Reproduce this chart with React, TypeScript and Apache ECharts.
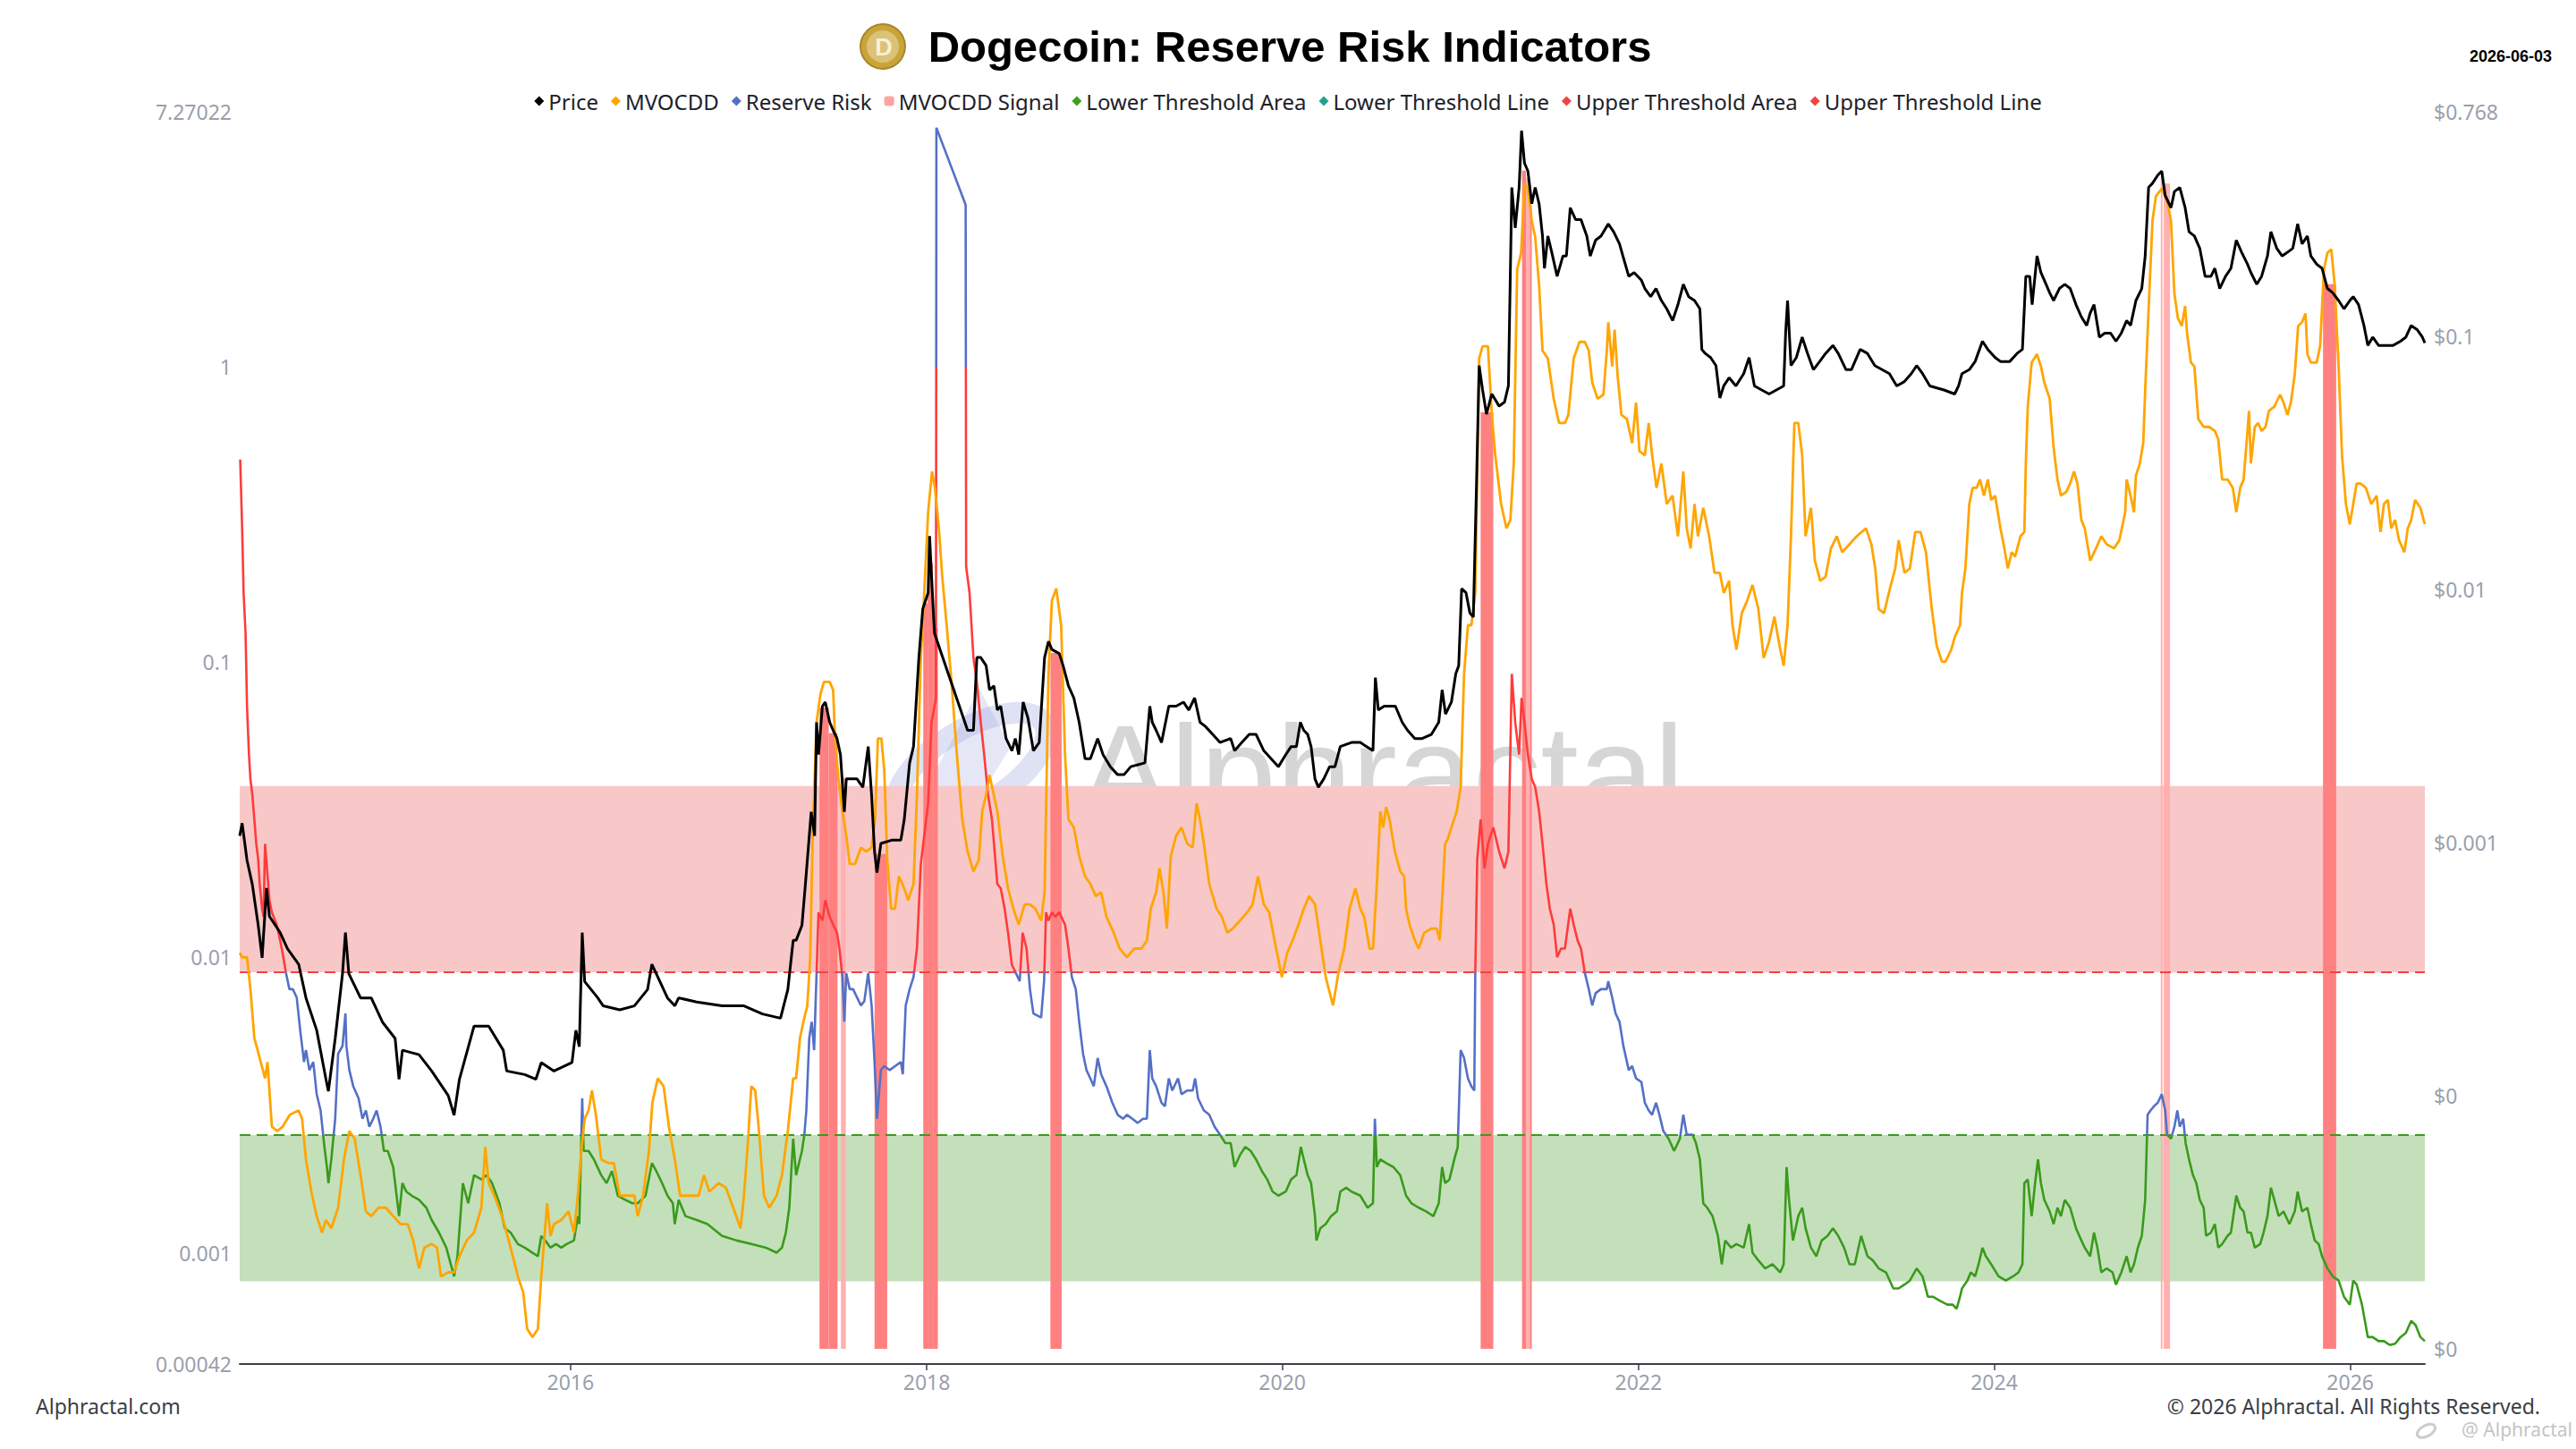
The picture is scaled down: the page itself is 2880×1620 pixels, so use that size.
import React, { useEffect, useRef } from "react";
import * as echarts from "echarts";

// ---------------- DATA ----------------
const xStart = "2014-02-21";
const xEnd = "2026-06-03";

const leftMin = 0.00042;
const leftMax = 7.27022;
const rightMin = 0.0000087;
const rightMax = 0.768;
const signalBase = 0.00001;

const upperThreshold = 0.0089;
const upperAreaTop = 0.038;
const lowerThreshold = 0.0025;
const lowerAreaBottom = 0.0008;

const priceData: [string, number][] = [
  ["2014-02-21", 0.00106], ["2014-02-26", 0.00119], ["2014-03-08", 0.00085], ["2014-03-19", 0.00068], ["2014-03-31", 0.00047],
  ["2014-04-08", 0.00035], ["2014-04-17", 0.00066], ["2014-04-23", 0.00051], ["2014-05-15", 0.00044], ["2014-05-30", 0.00038],
  ["2014-06-22", 0.00033], ["2014-07-07", 0.000243], ["2014-07-29", 0.000181], ["2014-08-17", 0.000116], ["2014-08-22", 0.000104],
  ["2014-09-05", 0.000168], ["2014-09-20", 0.000303], ["2014-09-26", 0.00044], ["2014-10-03", 0.000303], ["2014-10-27", 0.000243],
  ["2014-11-18", 0.000243], ["2014-12-11", 0.000195], ["2015-01-06", 0.000168], ["2015-01-14", 0.000116], ["2015-01-21", 0.000151],
  ["2015-02-24", 0.000145], ["2015-03-22", 0.000125], ["2015-04-25", 0.0001], ["2015-05-07", 0.0000836], ["2015-05-18", 0.000116],
  ["2015-06-17", 0.000188], ["2015-07-17", 0.000188], ["2015-08-16", 0.000151], ["2015-08-23", 0.000125], ["2015-09-29", 0.000121],
  ["2015-10-22", 0.000116], ["2015-11-02", 0.000135], ["2015-11-28", 0.000125], ["2016-01-04", 0.000135], ["2016-01-12", 0.000181],
  ["2016-01-19", 0.000156], ["2016-01-25", 0.00044], ["2016-01-30", 0.000282], ["2016-02-26", 0.000243], ["2016-03-08", 0.000226],
  ["2016-04-11", 0.000218], ["2016-05-11", 0.000226], ["2016-06-07", 0.000262], ["2016-06-16", 0.00033], ["2016-06-25", 0.000303],
  ["2016-07-18", 0.000243], ["2016-08-02", 0.000226], ["2016-08-10", 0.000243], ["2016-09-16", 0.000234], ["2016-11-07", 0.000226],
  ["2016-12-22", 0.000226], ["2017-01-29", 0.00021], ["2017-03-07", 0.000202], ["2017-03-22", 0.000262], ["2017-04-02", 0.00041],
  ["2017-04-08", 0.00041], ["2017-04-20", 0.00047], ["2017-04-27", 0.00068], ["2017-05-09", 0.00132], ["2017-05-16", 0.00106],
  ["2017-05-20", 0.00298], ["2017-05-24", 0.00222], ["2017-06-01", 0.00345], ["2017-06-07", 0.00358], ["2017-06-16", 0.00298],
  ["2017-06-23", 0.00277], ["2017-07-01", 0.00257], ["2017-07-08", 0.00222], ["2017-07-16", 0.00132], ["2017-07-20", 0.00178],
  ["2017-08-11", 0.00178], ["2017-08-23", 0.00165], ["2017-09-03", 0.00239], ["2017-09-10", 0.00153], ["2017-09-16", 0.00092],
  ["2017-09-21", 0.00076], ["2017-09-29", 0.00099], ["2017-10-21", 0.00102], ["2017-11-09", 0.00102], ["2017-11-16", 0.00123],
  ["2017-11-27", 0.00206], ["2017-12-05", 0.00239], ["2017-12-16", 0.00537], ["2017-12-24", 0.00836], ["2018-01-04", 0.00968],
  ["2018-01-07", 0.0162], ["2018-01-11", 0.0112], ["2018-01-17", 0.0067], ["2018-03-26", 0.00277], ["2018-04-07", 0.00277],
  ["2018-04-14", 0.00537], ["2018-04-22", 0.00537], ["2018-05-03", 0.00499], ["2018-05-10", 0.004], ["2018-05-19", 0.00415],
  ["2018-05-26", 0.00333], ["2018-06-02", 0.00345], ["2018-06-13", 0.00257], ["2018-06-25", 0.0023], ["2018-07-02", 0.00257],
  ["2018-07-09", 0.00222], ["2018-07-18", 0.00358], ["2018-07-28", 0.00309], ["2018-08-08", 0.0023], ["2018-08-20", 0.00248],
  ["2018-08-31", 0.00537], ["2018-09-08", 0.00622], ["2018-09-15", 0.00578], ["2018-09-30", 0.00557], ["2018-10-08", 0.00499],
  ["2018-10-19", 0.00415], ["2018-10-30", 0.00372], ["2018-11-10", 0.00298], ["2018-11-22", 0.00214], ["2018-12-03", 0.00214],
  ["2018-12-18", 0.00257], ["2018-12-29", 0.00222], ["2019-01-13", 0.00199], ["2019-01-28", 0.00185], ["2019-02-10", 0.00185],
  ["2019-02-24", 0.00199], ["2019-03-25", 0.00206], ["2019-04-04", 0.00345], ["2019-04-09", 0.00298], ["2019-04-17", 0.00277],
  ["2019-04-28", 0.00248], ["2019-05-13", 0.00345], ["2019-05-28", 0.00345], ["2019-06-12", 0.00358], ["2019-06-23", 0.00333],
  ["2019-07-05", 0.00372], ["2019-07-16", 0.00298], ["2019-07-27", 0.00287], ["2019-08-11", 0.00267], ["2019-08-26", 0.00248],
  ["2019-09-17", 0.00257], ["2019-09-25", 0.0023], ["2019-10-10", 0.00248], ["2019-10-25", 0.00267], ["2019-11-08", 0.00267],
  ["2019-11-24", 0.0023], ["2019-12-09", 0.00214], ["2019-12-24", 0.00199], ["2020-01-08", 0.00222], ["2020-01-19", 0.00239],
  ["2020-01-30", 0.00239], ["2020-02-07", 0.00298], ["2020-02-14", 0.00277], ["2020-02-22", 0.00267], ["2020-02-29", 0.00239],
  ["2020-03-08", 0.00178], ["2020-03-15", 0.00165], ["2020-03-26", 0.00178], ["2020-04-07", 0.00199], ["2020-04-18", 0.00199],
  ["2020-04-29", 0.00239], ["2020-05-22", 0.00248], ["2020-06-09", 0.00248], ["2020-07-05", 0.0023], ["2020-07-10", 0.00447],
  ["2020-07-16", 0.00333], ["2020-07-28", 0.00345], ["2020-08-08", 0.00345], ["2020-08-20", 0.00345], ["2020-09-03", 0.00298],
  ["2020-09-14", 0.00277], ["2020-09-29", 0.00257], ["2020-10-14", 0.00257], ["2020-11-02", 0.00267], ["2020-11-17", 0.00298],
  ["2020-11-24", 0.004], ["2020-12-01", 0.00321], ["2020-12-13", 0.00358], ["2020-12-22", 0.00463], ["2020-12-28", 0.00499],
  ["2021-01-03", 0.01005], ["2021-01-12", 0.00968], ["2021-01-20", 0.00805], ["2021-01-27", 0.00776], ["2021-02-02", 0.0235],
  ["2021-02-08", 0.0764], ["2021-02-15", 0.0612], ["2021-02-23", 0.0491], ["2021-03-06", 0.059], ["2021-03-21", 0.0528],
  ["2021-04-01", 0.0548], ["2021-04-09", 0.0635], ["2021-04-16", 0.386], ["2021-04-23", 0.267], ["2021-05-01", 0.386],
  ["2021-05-06", 0.647], ["2021-05-12", 0.482], ["2021-05-19", 0.448], ["2021-05-27", 0.333], ["2021-06-03", 0.386],
  ["2021-06-11", 0.333], ["2021-06-18", 0.248], ["2021-06-22", 0.185], ["2021-06-29", 0.248], ["2021-07-07", 0.214],
  ["2021-07-18", 0.172], ["2021-07-30", 0.207], ["2021-08-06", 0.207], ["2021-08-14", 0.321], ["2021-08-25", 0.288],
  ["2021-09-05", 0.288], ["2021-09-17", 0.248], ["2021-09-24", 0.207], ["2021-10-05", 0.239], ["2021-10-16", 0.248],
  ["2021-10-31", 0.277], ["2021-11-11", 0.258], ["2021-11-23", 0.231], ["2021-11-30", 0.207], ["2021-12-12", 0.172],
  ["2021-12-23", 0.178], ["2022-01-07", 0.166], ["2022-01-14", 0.154], ["2022-01-26", 0.143], ["2022-02-06", 0.154],
  ["2022-02-17", 0.138], ["2022-02-28", 0.128], ["2022-03-12", 0.115], ["2022-03-23", 0.133], ["2022-04-03", 0.16],
  ["2022-04-14", 0.143], ["2022-04-26", 0.138], ["2022-05-07", 0.128], ["2022-05-11", 0.0885], ["2022-05-18", 0.0853],
  ["2022-05-29", 0.0822], ["2022-06-09", 0.0764], ["2022-06-17", 0.0569], ["2022-06-25", 0.0635], ["2022-07-06", 0.0684],
  ["2022-07-20", 0.0635], ["2022-08-05", 0.071], ["2022-08-16", 0.0822], ["2022-08-27", 0.0635], ["2022-09-11", 0.0612],
  ["2022-09-26", 0.059], ["2022-10-11", 0.0612], ["2022-10-26", 0.0635], ["2022-10-30", 0.1026], ["2022-11-03", 0.138],
  ["2022-11-10", 0.0764], ["2022-11-21", 0.0822], ["2022-12-03", 0.0989], ["2022-12-14", 0.0853], ["2022-12-26", 0.0736],
  ["2023-01-08", 0.0793], ["2023-01-20", 0.0853], ["2023-02-04", 0.0918], ["2023-02-15", 0.0853], ["2023-03-03", 0.0736],
  ["2023-03-14", 0.0736], ["2023-04-01", 0.0885], ["2023-04-16", 0.0853], ["2023-05-01", 0.0764], ["2023-05-16", 0.0736],
  ["2023-05-31", 0.071], ["2023-06-15", 0.0635], ["2023-06-30", 0.0659], ["2023-07-15", 0.071], ["2023-07-26", 0.0764],
  ["2023-08-07", 0.071], ["2023-08-22", 0.0635], ["2023-09-20", 0.0612], ["2023-10-12", 0.059], ["2023-10-20", 0.0635],
  ["2023-10-27", 0.071], ["2023-11-11", 0.0736], ["2023-11-23", 0.0793], ["2023-12-08", 0.0953], ["2023-12-19", 0.0885],
  ["2024-01-03", 0.0822], ["2024-01-14", 0.0793], ["2024-02-02", 0.0793], ["2024-02-17", 0.0853], ["2024-02-28", 0.0885],
  ["2024-03-06", 0.172], ["2024-03-14", 0.172], ["2024-03-19", 0.133], ["2024-03-29", 0.207], ["2024-04-06", 0.178],
  ["2024-04-13", 0.166], ["2024-04-24", 0.148], ["2024-05-02", 0.138], ["2024-05-14", 0.154], ["2024-05-25", 0.16],
  ["2024-06-05", 0.154], ["2024-06-17", 0.133], ["2024-06-28", 0.119], ["2024-07-09", 0.11], ["2024-07-16", 0.123],
  ["2024-07-24", 0.133], ["2024-08-04", 0.0989], ["2024-08-15", 0.1026], ["2024-08-27", 0.1026], ["2024-09-07", 0.0953],
  ["2024-09-18", 0.1026], ["2024-09-29", 0.115], ["2024-10-07", 0.11], ["2024-10-18", 0.138], ["2024-10-30", 0.154],
  ["2024-11-06", 0.207], ["2024-11-13", 0.386], ["2024-11-21", 0.401], ["2024-12-02", 0.432], ["2024-12-10", 0.448],
  ["2024-12-17", 0.359], ["2024-12-29", 0.321], ["2025-01-05", 0.372], ["2025-01-16", 0.386], ["2025-01-27", 0.321],
  ["2025-02-04", 0.258], ["2025-02-15", 0.248], ["2025-02-26", 0.222], ["2025-03-09", 0.172], ["2025-03-21", 0.172],
  ["2025-03-29", 0.185], ["2025-04-08", 0.154], ["2025-04-20", 0.172], ["2025-05-01", 0.185], ["2025-05-12", 0.239],
  ["2025-05-23", 0.214], ["2025-06-04", 0.192], ["2025-06-11", 0.178], ["2025-06-23", 0.16], ["2025-07-03", 0.172],
  ["2025-07-15", 0.207], ["2025-07-22", 0.258], ["2025-08-03", 0.222], ["2025-08-14", 0.207], ["2025-08-25", 0.214],
  ["2025-09-05", 0.222], ["2025-09-15", 0.277], ["2025-09-24", 0.231], ["2025-10-05", 0.248], ["2025-10-12", 0.207],
  ["2025-10-24", 0.192], ["2025-11-04", 0.185], ["2025-11-15", 0.154], ["2025-11-26", 0.148], ["2025-12-08", 0.138],
  ["2025-12-19", 0.128], ["2025-12-31", 0.138], ["2026-01-07", 0.143], ["2026-01-18", 0.133], ["2026-01-29", 0.11],
  ["2026-02-06", 0.0918], ["2026-02-16", 0.0989], ["2026-02-28", 0.0918], ["2026-03-15", 0.0918], ["2026-03-30", 0.0918],
  ["2026-04-14", 0.0953], ["2026-04-25", 0.0989], ["2026-05-06", 0.11], ["2026-05-18", 0.106], ["2026-05-29", 0.0989],
  ["2026-06-03", 0.0938],
];

const mvocddData: [string, number][] = [
  ["2014-02-21", 0.01035], ["2014-02-26", 0.01], ["2014-03-08", 0.01], ["2014-03-15", 0.0078], ["2014-03-23", 0.00533],
  ["2014-04-03", 0.00456], ["2014-04-14", 0.00389], ["2014-04-19", 0.00442], ["2014-04-28", 0.00267], ["2014-05-09", 0.00258],
  ["2014-05-20", 0.00267], ["2014-06-04", 0.00293], ["2014-06-22", 0.00303], ["2014-06-29", 0.00284], ["2014-07-07", 0.00207],
  ["2014-07-18", 0.00161], ["2014-07-29", 0.00133], ["2014-08-09", 0.00117], ["2014-08-17", 0.00129], ["2014-08-28", 0.00121],
  ["2014-09-11", 0.00142], ["2014-09-23", 0.00207], ["2014-10-04", 0.00258], ["2014-10-15", 0.00243], ["2014-10-27", 0.00183],
  ["2014-11-07", 0.00138], ["2014-11-18", 0.00133], ["2014-12-03", 0.00142], ["2014-12-18", 0.00142], ["2015-01-02", 0.00133],
  ["2015-01-17", 0.00125], ["2015-02-01", 0.00125], ["2015-02-12", 0.0011], ["2015-02-24", 0.000885], ["2015-03-07", 0.00104],
  ["2015-03-22", 0.00107], ["2015-04-02", 0.00104], ["2015-04-10", 0.000832], ["2015-04-25", 0.000858], ["2015-05-07", 0.000858],
  ["2015-05-18", 0.000973], ["2015-06-02", 0.0011], ["2015-06-17", 0.00117], ["2015-07-02", 0.00142], ["2015-07-10", 0.00228],
  ["2015-07-17", 0.00172], ["2015-08-01", 0.00151], ["2015-08-16", 0.00129], ["2015-08-31", 0.00104], ["2015-09-15", 0.000832],
  ["2015-09-26", 0.000733], ["2015-10-04", 0.000552], ["2015-10-15", 0.000518], ["2015-10-26", 0.000552], ["2015-11-02", 0.000832],
  ["2015-11-10", 0.00121], ["2015-11-14", 0.00147], ["2015-11-21", 0.00114], ["2015-11-28", 0.00125], ["2015-12-13", 0.00129],
  ["2015-12-28", 0.00138], ["2016-01-08", 0.00117], ["2016-01-16", 0.00156], ["2016-01-23", 0.00221], ["2016-01-30", 0.00284],
  ["2016-02-07", 0.00303], ["2016-02-14", 0.00354], ["2016-02-22", 0.00293], ["2016-03-04", 0.00207], ["2016-03-19", 0.00201],
  ["2016-03-30", 0.00201], ["2016-04-11", 0.00156], ["2016-04-26", 0.00156], ["2016-05-11", 0.00156], ["2016-05-18", 0.00133],
  ["2016-05-29", 0.00156], ["2016-06-10", 0.00221], ["2016-06-17", 0.00322], ["2016-06-28", 0.00389], ["2016-07-10", 0.00366],
  ["2016-07-21", 0.00267], ["2016-08-02", 0.00207], ["2016-08-13", 0.00156], ["2016-09-01", 0.00156], ["2016-09-20", 0.00156],
  ["2016-10-01", 0.00183], ["2016-10-12", 0.00161], ["2016-10-31", 0.00172], ["2016-11-15", 0.00166], ["2016-11-30", 0.00142],
  ["2016-12-15", 0.00121], ["2016-12-22", 0.00156], ["2016-12-30", 0.00235], ["2017-01-06", 0.00366], ["2017-01-14", 0.00354],
  ["2017-01-21", 0.00267], ["2017-02-01", 0.00156], ["2017-02-12", 0.00142], ["2017-02-27", 0.00156], ["2017-03-10", 0.00183],
  ["2017-03-22", 0.00258], ["2017-04-02", 0.00389], ["2017-04-08", 0.00389], ["2017-04-16", 0.00533], ["2017-04-23", 0.00605],
  ["2017-05-01", 0.00687], ["2017-05-07", 0.01], ["2017-05-12", 0.0258], ["2017-05-20", 0.0624], ["2017-05-28", 0.0778],
  ["2017-06-04", 0.0855], ["2017-06-16", 0.0855], ["2017-06-23", 0.0803], ["2017-06-27", 0.055], ["2017-07-04", 0.0401],
  ["2017-07-12", 0.0312], ["2017-07-20", 0.0258], ["2017-07-27", 0.0207], ["2017-08-07", 0.0207], ["2017-08-19", 0.0235],
  ["2017-08-30", 0.0228], ["2017-09-10", 0.0235], ["2017-09-17", 0.0293], ["2017-09-23", 0.055], ["2017-09-30", 0.055],
  ["2017-10-06", 0.0428], ["2017-10-12", 0.0214], ["2017-10-20", 0.0146], ["2017-10-28", 0.0146], ["2017-11-05", 0.0188],
  ["2017-11-16", 0.0171], ["2017-11-24", 0.0156], ["2017-12-05", 0.0177], ["2017-12-12", 0.0354], ["2017-12-20", 0.103],
  ["2017-12-27", 0.171], ["2018-01-04", 0.321], ["2018-01-12", 0.441], ["2018-01-18", 0.388], ["2018-01-26", 0.283],
  ["2018-02-02", 0.194], ["2018-02-11", 0.133], ["2018-02-21", 0.0855], ["2018-03-04", 0.0485], ["2018-03-15", 0.0293],
  ["2018-03-26", 0.0228], ["2018-04-07", 0.0195], ["2018-04-18", 0.0214], ["2018-04-25", 0.0312], ["2018-05-03", 0.0354],
  ["2018-05-10", 0.0414], ["2018-05-26", 0.0312], ["2018-06-06", 0.022], ["2018-06-17", 0.0171], ["2018-06-28", 0.0146],
  ["2018-07-09", 0.0129], ["2018-07-21", 0.0151], ["2018-08-01", 0.0151], ["2018-08-12", 0.0146], ["2018-08-24", 0.0133],
  ["2018-08-31", 0.0166], ["2018-09-08", 0.091], ["2018-09-15", 0.161], ["2018-09-24", 0.177], ["2018-10-04", 0.133],
  ["2018-10-12", 0.0485], ["2018-10-19", 0.0293], ["2018-10-30", 0.0275], ["2018-11-10", 0.022], ["2018-11-22", 0.0188],
  ["2018-12-03", 0.0177], ["2018-12-14", 0.0161], ["2018-12-25", 0.0166], ["2019-01-05", 0.0137], ["2019-01-20", 0.0121],
  ["2019-02-01", 0.0107], ["2019-02-16", 0.01], ["2019-03-03", 0.0107], ["2019-03-18", 0.0107], ["2019-03-29", 0.0114],
  ["2019-04-06", 0.0146], ["2019-04-17", 0.0166], ["2019-04-24", 0.02], ["2019-05-02", 0.0166], ["2019-05-09", 0.0125],
  ["2019-05-17", 0.022], ["2019-05-28", 0.0258], ["2019-06-08", 0.0275], ["2019-06-20", 0.0242], ["2019-07-01", 0.0235],
  ["2019-07-09", 0.0332], ["2019-07-16", 0.0293], ["2019-07-24", 0.0242], ["2019-08-04", 0.0177], ["2019-08-19", 0.0146],
  ["2019-08-30", 0.0137], ["2019-09-10", 0.0121], ["2019-09-21", 0.0125], ["2019-10-06", 0.0133], ["2019-10-21", 0.0142],
  ["2019-11-01", 0.0151], ["2019-11-12", 0.0188], ["2019-11-24", 0.0151], ["2019-12-05", 0.0142], ["2019-12-16", 0.0114],
  ["2019-12-31", 0.00857], ["2020-01-11", 0.01035], ["2020-01-22", 0.0114], ["2020-02-03", 0.0129], ["2020-02-14", 0.0146],
  ["2020-02-25", 0.0161], ["2020-03-08", 0.0151], ["2020-03-19", 0.0114], ["2020-03-30", 0.00857], ["2020-04-14", 0.00687],
  ["2020-04-25", 0.00884], ["2020-05-07", 0.0107], ["2020-05-18", 0.0146], ["2020-05-30", 0.0171], ["2020-06-09", 0.0146],
  ["2020-06-17", 0.0137], ["2020-06-28", 0.0107], ["2020-07-05", 0.0107], ["2020-07-13", 0.0177], ["2020-07-20", 0.0312],
  ["2020-07-26", 0.0275], ["2020-08-01", 0.0322], ["2020-08-08", 0.0293], ["2020-08-19", 0.0228], ["2020-08-30", 0.0195],
  ["2020-09-07", 0.0188], ["2020-09-11", 0.0146], ["2020-09-18", 0.0129], ["2020-09-29", 0.0114], ["2020-10-07", 0.0107],
  ["2020-10-18", 0.0121], ["2020-11-02", 0.0125], ["2020-11-13", 0.0125], ["2020-11-19", 0.0114], ["2020-11-24", 0.0156],
  ["2020-11-30", 0.0242], ["2020-12-05", 0.025], ["2020-12-13", 0.0275], ["2020-12-24", 0.0312], ["2021-01-01", 0.0377],
  ["2021-01-08", 0.091], ["2021-01-16", 0.133], ["2021-01-23", 0.133], ["2021-01-31", 0.171], ["2021-02-08", 1.064],
  ["2021-02-15", 1.17], ["2021-02-26", 1.17], ["2021-03-06", 0.685], ["2021-03-13", 0.5], ["2021-03-25", 0.342],
  ["2021-04-05", 0.283], ["2021-04-13", 0.302], ["2021-04-20", 0.469], ["2021-04-27", 2.13], ["2021-05-05", 2.42],
  ["2021-05-12", 4.13], ["2021-05-19", 4.0], ["2021-05-27", 3.11], ["2021-06-03", 2.74], ["2021-06-11", 1.88],
  ["2021-06-18", 1.13], ["2021-06-29", 1.064], ["2021-07-11", 0.777], ["2021-07-22", 0.643], ["2021-08-03", 0.643],
  ["2021-08-10", 0.685], ["2021-08-21", 1.064], ["2021-09-02", 1.21], ["2021-09-13", 1.21], ["2021-09-21", 1.13],
  ["2021-09-28", 0.881], ["2021-10-09", 0.777], ["2021-10-21", 0.802], ["2021-10-28", 1.13], ["2021-10-31", 1.41],
  ["2021-11-08", 1.0], ["2021-11-13", 1.33], ["2021-11-19", 0.938], ["2021-11-27", 0.685], ["2021-12-08", 0.664],
  ["2021-12-19", 0.55], ["2021-12-27", 0.754], ["2022-01-03", 0.516], ["2022-01-14", 0.5], ["2022-01-22", 0.643],
  ["2022-01-29", 0.5], ["2022-02-07", 0.388], ["2022-02-17", 0.469], ["2022-02-28", 0.342], ["2022-03-12", 0.365],
  ["2022-03-23", 0.266], ["2022-04-03", 0.441], ["2022-04-10", 0.283], ["2022-04-18", 0.242], ["2022-04-26", 0.342],
  ["2022-05-03", 0.266], ["2022-05-14", 0.332], ["2022-05-26", 0.266], ["2022-06-06", 0.2], ["2022-06-17", 0.2],
  ["2022-06-25", 0.171], ["2022-07-06", 0.188], ["2022-07-13", 0.133], ["2022-07-21", 0.11], ["2022-08-01", 0.146],
  ["2022-08-12", 0.161], ["2022-08-23", 0.182], ["2022-09-04", 0.151], ["2022-09-15", 0.103], ["2022-09-26", 0.117],
  ["2022-10-07", 0.142], ["2022-10-19", 0.11], ["2022-10-26", 0.097], ["2022-11-03", 0.133], ["2022-11-10", 0.266],
  ["2022-11-17", 0.643], ["2022-11-25", 0.643], ["2022-12-03", 0.5], ["2022-12-10", 0.266], ["2022-12-21", 0.332],
  ["2022-12-29", 0.22], ["2023-01-09", 0.188], ["2023-01-20", 0.194], ["2023-01-31", 0.242], ["2023-02-12", 0.266],
  ["2023-02-23", 0.235], ["2023-03-10", 0.25], ["2023-03-25", 0.266], ["2023-04-13", 0.283], ["2023-04-24", 0.25],
  ["2023-05-02", 0.207], ["2023-05-09", 0.151], ["2023-05-20", 0.146], ["2023-06-01", 0.177], ["2023-06-12", 0.207],
  ["2023-06-19", 0.258], ["2023-07-01", 0.2], ["2023-07-12", 0.207], ["2023-07-23", 0.275], ["2023-08-03", 0.275],
  ["2023-08-14", 0.235], ["2023-08-26", 0.151], ["2023-09-05", 0.1135], ["2023-09-16", 0.1], ["2023-09-23", 0.1],
  ["2023-10-05", 0.11], ["2023-10-12", 0.121], ["2023-10-23", 0.133], ["2023-10-27", 0.171], ["2023-11-03", 0.207],
  ["2023-11-11", 0.342], ["2023-11-18", 0.388], ["2023-11-26", 0.388], ["2023-12-03", 0.414], ["2023-12-11", 0.365],
  ["2023-12-19", 0.414], ["2023-12-26", 0.353], ["2024-01-03", 0.365], ["2024-01-14", 0.283], ["2024-01-22", 0.242],
  ["2024-01-29", 0.207], ["2024-02-06", 0.235], ["2024-02-13", 0.227], ["2024-02-24", 0.266], ["2024-03-03", 0.275],
  ["2024-03-06", 0.469], ["2024-03-10", 0.73], ["2024-03-18", 1.03], ["2024-03-29", 1.1], ["2024-04-06", 1.0],
  ["2024-04-13", 0.881], ["2024-04-24", 0.777], ["2024-05-02", 0.532], ["2024-05-10", 0.414], ["2024-05-17", 0.365],
  ["2024-05-28", 0.376], ["2024-06-05", 0.401], ["2024-06-13", 0.441], ["2024-06-20", 0.401], ["2024-06-28", 0.302],
  ["2024-07-05", 0.283], ["2024-07-16", 0.22], ["2024-07-28", 0.242], ["2024-08-08", 0.266], ["2024-08-19", 0.25],
  ["2024-09-03", 0.242], ["2024-09-14", 0.258], ["2024-09-26", 0.321], ["2024-09-29", 0.414], ["2024-10-07", 0.365],
  ["2024-10-14", 0.321], ["2024-10-18", 0.427], ["2024-10-26", 0.469], ["2024-11-02", 0.55], ["2024-11-06", 0.828],
  ["2024-11-13", 1.56], ["2024-11-21", 3.11], ["2024-11-28", 3.76], ["2024-12-10", 4.0], ["2024-12-21", 3.64],
  ["2024-12-29", 3.11], ["2025-01-05", 1.76], ["2025-01-12", 1.46], ["2025-01-20", 1.37], ["2025-01-27", 1.6],
  ["2025-01-31", 1.29], ["2025-02-08", 1.03], ["2025-02-15", 1.0], ["2025-02-23", 0.664], ["2025-03-06", 0.624],
  ["2025-03-17", 0.624], ["2025-03-29", 0.604], ["2025-04-05", 0.567], ["2025-04-13", 0.414], ["2025-04-24", 0.414],
  ["2025-05-05", 0.388], ["2025-05-12", 0.321], ["2025-05-20", 0.388], ["2025-05-27", 0.414], ["2025-06-04", 0.604],
  ["2025-06-07", 0.707], ["2025-06-11", 0.469], ["2025-06-19", 0.624], ["2025-06-26", 0.643], ["2025-07-03", 0.604],
  ["2025-07-11", 0.624], ["2025-07-18", 0.707], ["2025-07-29", 0.73], ["2025-08-10", 0.802], ["2025-08-17", 0.754],
  ["2025-08-25", 0.685], ["2025-09-01", 0.754], ["2025-09-09", 0.938], ["2025-09-16", 1.37], ["2025-09-24", 1.41],
  ["2025-10-01", 1.51], ["2025-10-05", 1.1], ["2025-10-12", 1.03], ["2025-10-24", 1.03], ["2025-10-31", 1.17],
  ["2025-11-08", 2.13], ["2025-11-15", 2.42], ["2025-11-23", 2.49], ["2025-11-30", 1.88], ["2025-12-08", 1.0],
  ["2025-12-15", 0.5], ["2025-12-23", 0.342], ["2025-12-31", 0.292], ["2026-01-07", 0.342], ["2026-01-14", 0.401],
  ["2026-01-22", 0.401], ["2026-02-02", 0.388], ["2026-02-13", 0.342], ["2026-02-24", 0.365], ["2026-03-04", 0.275],
  ["2026-03-11", 0.342], ["2026-03-19", 0.353], ["2026-03-26", 0.283], ["2026-04-03", 0.302], ["2026-04-11", 0.258],
  ["2026-04-22", 0.235], ["2026-04-29", 0.283], ["2026-05-06", 0.302], ["2026-05-14", 0.353], ["2026-05-25", 0.332],
  ["2026-06-03", 0.292],
];

const reserveRiskData: [string, number][] = [
  ["2014-02-22", 0.484], ["2014-02-26", 0.283], ["2014-03-01", 0.171], ["2014-03-05", 0.125], ["2014-03-08", 0.0708],
  ["2014-03-12", 0.0485], ["2014-03-15", 0.0401], ["2014-03-19", 0.0354], ["2014-03-23", 0.0293], ["2014-03-27", 0.0242],
  ["2014-03-31", 0.0214], ["2014-04-03", 0.0177], ["2014-04-08", 0.0146], ["2014-04-11", 0.0137], ["2014-04-14", 0.0242],
  ["2014-04-18", 0.02], ["2014-04-23", 0.0156], ["2014-04-28", 0.0142], ["2014-05-08", 0.0129], ["2014-05-15", 0.0114],
  ["2014-05-20", 0.01035], ["2014-05-27", 0.00884], ["2014-06-03", 0.0078], ["2014-06-10", 0.0078], ["2014-06-18", 0.00731],
  ["2014-06-25", 0.00569], ["2014-07-03", 0.00442], ["2014-07-07", 0.00485], ["2014-07-14", 0.00415], ["2014-07-22", 0.00442],
  ["2014-07-29", 0.00344], ["2014-08-06", 0.00303], ["2014-08-13", 0.00235], ["2014-08-19", 0.00195], ["2014-08-22", 0.00172],
  ["2014-08-28", 0.00207], ["2014-09-05", 0.00284], ["2014-09-11", 0.00471], ["2014-09-20", 0.00501], ["2014-09-26", 0.00645],
  ["2014-09-28", 0.00501], ["2014-10-04", 0.00415], ["2014-10-12", 0.00366], ["2014-10-23", 0.00333], ["2014-10-31", 0.00284],
  ["2014-11-07", 0.00303], ["2014-11-14", 0.00267], ["2014-11-22", 0.00284], ["2014-11-29", 0.00303], ["2014-12-07", 0.00267],
  ["2014-12-14", 0.00221], ["2014-12-22", 0.00221], ["2015-01-02", 0.00195], ["2015-01-14", 0.00133], ["2015-01-21", 0.00172],
  ["2015-01-29", 0.00161], ["2015-02-09", 0.00156], ["2015-02-24", 0.00151], ["2015-03-11", 0.00142], ["2015-03-22", 0.00129],
  ["2015-04-06", 0.00117], ["2015-04-21", 0.00104], ["2015-05-07", 0.000832], ["2015-05-14", 0.000973], ["2015-05-25", 0.00172],
  ["2015-06-05", 0.00147], ["2015-06-17", 0.00183], ["2015-07-02", 0.00177], ["2015-07-13", 0.00183], ["2015-07-24", 0.00172],
  ["2015-08-08", 0.00147], ["2015-08-19", 0.00121], ["2015-08-31", 0.00117], ["2015-09-15", 0.00107], ["2015-09-29", 0.00104],
  ["2015-10-15", 0.001], ["2015-10-26", 0.000973], ["2015-11-02", 0.00114], ["2015-11-10", 0.0011], ["2015-11-21", 0.00104],
  ["2015-12-02", 0.00107], ["2015-12-13", 0.00104], ["2015-12-24", 0.00107], ["2016-01-08", 0.0011], ["2016-01-16", 0.00133],
  ["2016-01-19", 0.00125], ["2016-01-25", 0.00333], ["2016-01-28", 0.00221], ["2016-02-07", 0.00221], ["2016-02-18", 0.00207],
  ["2016-03-04", 0.00183], ["2016-03-15", 0.00172], ["2016-03-26", 0.00189], ["2016-04-07", 0.00156], ["2016-04-22", 0.00151],
  ["2016-05-07", 0.00147], ["2016-05-18", 0.00147], ["2016-06-03", 0.00156], ["2016-06-16", 0.00201], ["2016-06-25", 0.00189],
  ["2016-07-07", 0.00172], ["2016-07-18", 0.00156], ["2016-07-29", 0.00147], ["2016-08-02", 0.00125], ["2016-08-10", 0.00151],
  ["2016-08-24", 0.00133], ["2016-09-16", 0.00129], ["2016-10-08", 0.00125], ["2016-11-07", 0.00114], ["2016-12-07", 0.0011],
  ["2017-01-06", 0.00107], ["2017-02-05", 0.00104], ["2017-02-27", 0.001], ["2017-03-10", 0.00104], ["2017-03-18", 0.00117],
  ["2017-03-25", 0.00142], ["2017-04-02", 0.00243], ["2017-04-08", 0.00183], ["2017-04-20", 0.00221], ["2017-04-25", 0.00251],
  ["2017-04-29", 0.00303], ["2017-05-05", 0.00533], ["2017-05-10", 0.00605], ["2017-05-15", 0.00485], ["2017-05-20", 0.00884],
  ["2017-05-24", 0.0142], ["2017-06-01", 0.0133], ["2017-06-07", 0.0156], ["2017-06-16", 0.0137], ["2017-06-23", 0.0129],
  ["2017-07-01", 0.0121], ["2017-07-06", 0.0107], ["2017-07-12", 0.00857], ["2017-07-16", 0.00605], ["2017-07-20", 0.00884],
  ["2017-07-27", 0.0078], ["2017-08-03", 0.0078], ["2017-08-11", 0.00731], ["2017-08-19", 0.00687], ["2017-08-26", 0.0071],
  ["2017-09-03", 0.00884], ["2017-09-10", 0.00687], ["2017-09-16", 0.00442], ["2017-09-21", 0.00284], ["2017-09-29", 0.00415],
  ["2017-10-06", 0.00428], ["2017-10-17", 0.00415], ["2017-10-28", 0.00428], ["2017-11-09", 0.00442], ["2017-11-13", 0.00402],
  ["2017-11-19", 0.00687], ["2017-11-27", 0.0078], ["2017-12-05", 0.00857], ["2017-12-12", 0.0107], ["2017-12-20", 0.0207],
  ["2017-12-27", 0.0258], ["2018-01-04", 0.0332], ["2018-01-11", 0.0624], ["2018-01-17", 0.0708], ["2018-01-20", 0.075],
  ["2018-01-21", 6.42], ["2018-03-22", 3.52], ["2018-03-23", 0.21], ["2018-03-30", 0.171], ["2018-04-07", 0.103],
  ["2018-04-14", 0.0855], ["2018-04-22", 0.0624], ["2018-04-29", 0.0485], ["2018-05-07", 0.0354], ["2018-05-15", 0.0293],
  ["2018-05-26", 0.0177], ["2018-06-02", 0.0171], ["2018-06-10", 0.0146], ["2018-06-17", 0.0121], ["2018-06-25", 0.00942],
  ["2018-07-03", 0.00884], ["2018-07-11", 0.0083], ["2018-07-17", 0.0121], ["2018-07-25", 0.0107], ["2018-08-01", 0.0078],
  ["2018-08-08", 0.00645], ["2018-08-24", 0.00625], ["2018-08-30", 0.0083], ["2018-09-03", 0.0142], ["2018-09-08", 0.0133],
  ["2018-09-15", 0.0142], ["2018-09-22", 0.0137], ["2018-09-30", 0.0142], ["2018-10-12", 0.0129], ["2018-10-19", 0.0107],
  ["2018-10-26", 0.00857], ["2018-11-03", 0.0078], ["2018-11-10", 0.00605], ["2018-11-18", 0.00471], ["2018-11-25", 0.00415],
  ["2018-12-03", 0.00389], ["2018-12-10", 0.00366], ["2018-12-18", 0.00456], ["2018-12-25", 0.00402], ["2019-01-05", 0.00366],
  ["2019-01-17", 0.00322], ["2019-01-28", 0.00293], ["2019-02-08", 0.00284], ["2019-02-16", 0.00293], ["2019-02-27", 0.00284],
  ["2019-03-10", 0.00275], ["2019-03-21", 0.00284], ["2019-03-29", 0.00284], ["2019-04-04", 0.00485], ["2019-04-09", 0.00389],
  ["2019-04-17", 0.00366], ["2019-04-28", 0.00322], ["2019-05-05", 0.00313], ["2019-05-13", 0.00389], ["2019-05-20", 0.00354],
  ["2019-06-01", 0.00389], ["2019-06-08", 0.00344], ["2019-06-20", 0.00354], ["2019-07-01", 0.00354], ["2019-07-06", 0.00389],
  ["2019-07-12", 0.00333], ["2019-07-24", 0.00303], ["2019-08-04", 0.00293], ["2019-08-15", 0.00267], ["2019-08-26", 0.00251],
  ["2019-09-06", 0.00235], ["2019-09-17", 0.00235], ["2019-09-25", 0.00195], ["2019-10-06", 0.00214], ["2019-10-17", 0.00228],
  ["2019-10-28", 0.00221], ["2019-11-08", 0.00207], ["2019-11-20", 0.00189], ["2019-12-01", 0.00177], ["2019-12-12", 0.00161],
  ["2019-12-24", 0.00156], ["2020-01-08", 0.00161], ["2020-01-19", 0.00177], ["2020-01-30", 0.00183], ["2020-02-08", 0.00228],
  ["2020-02-14", 0.00207], ["2020-02-22", 0.00183], ["2020-02-29", 0.00172], ["2020-03-08", 0.00133], ["2020-03-11", 0.0011],
  ["2020-03-19", 0.00121], ["2020-03-30", 0.00125], ["2020-04-10", 0.00133], ["2020-04-22", 0.00138], ["2020-04-29", 0.00161],
  ["2020-05-11", 0.00166], ["2020-05-22", 0.00161], ["2020-06-09", 0.00156], ["2020-06-24", 0.00142], ["2020-07-05", 0.00147],
  ["2020-07-09", 0.00284], ["2020-07-13", 0.00195], ["2020-07-20", 0.00207], ["2020-08-01", 0.00201], ["2020-08-16", 0.00195],
  ["2020-08-30", 0.00183], ["2020-09-11", 0.00156], ["2020-09-22", 0.00147], ["2020-10-07", 0.00142], ["2020-10-22", 0.00138],
  ["2020-11-06", 0.00133], ["2020-11-17", 0.00147], ["2020-11-24", 0.00195], ["2020-11-30", 0.00172], ["2020-12-09", 0.00177],
  ["2020-12-19", 0.00207], ["2020-12-26", 0.00228], ["2021-01-01", 0.00485], ["2021-01-08", 0.00456], ["2021-01-16", 0.00389],
  ["2021-01-23", 0.00366], ["2021-01-29", 0.00354], ["2021-01-31", 0.00884], ["2021-02-04", 0.0214], ["2021-02-11", 0.0293],
  ["2021-02-19", 0.02], ["2021-02-26", 0.0242], ["2021-03-09", 0.0275], ["2021-03-21", 0.0228], ["2021-04-01", 0.02],
  ["2021-04-09", 0.0228], ["2021-04-16", 0.091], ["2021-04-23", 0.0624], ["2021-05-01", 0.0485], ["2021-05-06", 0.0754],
  ["2021-05-12", 0.0624], ["2021-05-19", 0.0485], ["2021-05-27", 0.0401], ["2021-06-03", 0.0377], ["2021-06-11", 0.0312],
  ["2021-06-18", 0.0242], ["2021-06-26", 0.0177], ["2021-07-03", 0.0146], ["2021-07-11", 0.0129], ["2021-07-18", 0.01],
  ["2021-07-26", 0.0107], ["2021-08-03", 0.0107], ["2021-08-14", 0.0146], ["2021-08-21", 0.0129], ["2021-08-29", 0.0114],
  ["2021-09-05", 0.0107], ["2021-09-13", 0.00884], ["2021-09-21", 0.0078], ["2021-09-28", 0.00687], ["2021-10-05", 0.00756],
  ["2021-10-16", 0.0078], ["2021-10-28", 0.0078], ["2021-10-31", 0.0083], ["2021-11-08", 0.00731], ["2021-11-15", 0.00645],
  ["2021-11-23", 0.00605], ["2021-12-01", 0.00501], ["2021-12-12", 0.00415], ["2021-12-19", 0.00428], ["2021-12-27", 0.00389],
  ["2022-01-07", 0.00378], ["2022-01-14", 0.00322], ["2022-01-22", 0.00303], ["2022-01-29", 0.00293], ["2022-02-06", 0.00322],
  ["2022-02-13", 0.00293], ["2022-02-21", 0.00258], ["2022-03-04", 0.00243], ["2022-03-15", 0.00221], ["2022-03-27", 0.00243],
  ["2022-04-03", 0.00293], ["2022-04-10", 0.00251], ["2022-04-22", 0.00251], ["2022-04-29", 0.00235], ["2022-05-07", 0.00207],
  ["2022-05-14", 0.00147], ["2022-05-22", 0.00142], ["2022-06-02", 0.00133], ["2022-06-13", 0.00114], ["2022-06-21", 0.000914],
  ["2022-06-28", 0.0011], ["2022-07-10", 0.00104], ["2022-07-21", 0.00107], ["2022-08-05", 0.00104], ["2022-08-16", 0.00125],
  ["2022-08-23", 0.001], ["2022-09-04", 0.000942], ["2022-09-18", 0.000885], ["2022-10-03", 0.000914], ["2022-10-19", 0.000858],
  ["2022-10-26", 0.000914], ["2022-11-01", 0.00195], ["2022-11-06", 0.00151], ["2022-11-14", 0.0011], ["2022-11-25", 0.00133],
  ["2022-12-03", 0.00142], ["2022-12-10", 0.00121], ["2022-12-21", 0.00104], ["2023-01-01", 0.000973], ["2023-01-12", 0.0011],
  ["2023-01-24", 0.00114], ["2023-02-04", 0.00121], ["2023-02-15", 0.00114], ["2023-02-27", 0.00104], ["2023-03-10", 0.000914],
  ["2023-03-21", 0.000914], ["2023-04-03", 0.00114], ["2023-04-16", 0.000973], ["2023-04-27", 0.000942], ["2023-05-09", 0.000885],
  ["2023-05-24", 0.000858], ["2023-06-08", 0.000757], ["2023-06-19", 0.000757], ["2023-07-01", 0.00078], ["2023-07-12", 0.000805],
  ["2023-07-26", 0.000885], ["2023-08-07", 0.000832], ["2023-08-18", 0.00071], ["2023-08-28", 0.00071], ["2023-09-12", 0.000687],
  ["2023-09-27", 0.000667], ["2023-10-08", 0.000667], ["2023-10-16", 0.000646], ["2023-10-23", 0.00071], ["2023-10-27", 0.000757],
  ["2023-11-07", 0.000805], ["2023-11-14", 0.000858], ["2023-11-23", 0.000832], ["2023-11-30", 0.000914], ["2023-12-08", 0.00104],
  ["2023-12-15", 0.000973], ["2023-12-26", 0.000914], ["2024-01-10", 0.000832], ["2024-01-25", 0.000805], ["2024-02-09", 0.000832],
  ["2024-02-20", 0.000858], ["2024-02-28", 0.000914], ["2024-03-03", 0.00172], ["2024-03-10", 0.00177], ["2024-03-18", 0.00133],
  ["2024-03-25", 0.00172], ["2024-03-31", 0.00207], ["2024-04-06", 0.00172], ["2024-04-13", 0.00151], ["2024-04-24", 0.00138],
  ["2024-05-02", 0.00125], ["2024-05-10", 0.00142], ["2024-05-17", 0.00133], ["2024-05-25", 0.00151], ["2024-06-05", 0.00142],
  ["2024-06-17", 0.00121], ["2024-06-28", 0.0011], ["2024-07-05", 0.00104], ["2024-07-16", 0.000973], ["2024-07-24", 0.00117],
  ["2024-07-31", 0.00104], ["2024-08-08", 0.000858], ["2024-08-19", 0.000885], ["2024-08-31", 0.000858], ["2024-09-07", 0.00078],
  ["2024-09-18", 0.000858], ["2024-09-29", 0.000973], ["2024-10-07", 0.000858], ["2024-10-14", 0.000914], ["2024-10-22", 0.00104],
  ["2024-10-30", 0.00114], ["2024-11-06", 0.00151], ["2024-11-11", 0.00293], ["2024-11-17", 0.00303], ["2024-11-24", 0.00313],
  ["2024-12-02", 0.00322], ["2024-12-10", 0.00344], ["2024-12-17", 0.00303], ["2024-12-21", 0.00251], ["2024-12-29", 0.00243],
  ["2025-01-05", 0.00267], ["2025-01-11", 0.00303], ["2025-01-16", 0.00267], ["2025-01-23", 0.00284], ["2025-01-28", 0.00235],
  ["2025-02-04", 0.00207], ["2025-02-12", 0.00183], ["2025-02-19", 0.00172], ["2025-02-26", 0.00151], ["2025-03-06", 0.00142],
  ["2025-03-11", 0.00114], ["2025-03-21", 0.00117], ["2025-03-29", 0.00125], ["2025-04-05", 0.00104], ["2025-04-13", 0.00107],
  ["2025-04-24", 0.00114], ["2025-05-01", 0.00117], ["2025-05-12", 0.00156], ["2025-05-20", 0.00142], ["2025-05-27", 0.00138],
  ["2025-06-04", 0.00117], ["2025-06-11", 0.00117], ["2025-06-19", 0.00104], ["2025-06-30", 0.00107], ["2025-07-07", 0.00117],
  ["2025-07-15", 0.00133], ["2025-07-22", 0.00166], ["2025-07-29", 0.00151], ["2025-08-07", 0.00133], ["2025-08-17", 0.00138],
  ["2025-08-29", 0.00125], ["2025-09-09", 0.00138], ["2025-09-15", 0.00161], ["2025-09-24", 0.00138], ["2025-10-05", 0.00142],
  ["2025-10-12", 0.00125], ["2025-10-20", 0.0011], ["2025-10-28", 0.00107], ["2025-11-04", 0.000973], ["2025-11-15", 0.000885],
  ["2025-11-26", 0.000832], ["2025-12-08", 0.000805], ["2025-12-19", 0.00071], ["2025-12-31", 0.000667], ["2026-01-07", 0.000805],
  ["2026-01-14", 0.00078], ["2026-01-25", 0.000667], ["2026-02-06", 0.000518], ["2026-02-16", 0.000518], ["2026-02-28", 0.000502],
  ["2026-03-11", 0.000502], ["2026-03-23", 0.000487], ["2026-04-03", 0.000492], ["2026-04-14", 0.000518], ["2026-04-25", 0.000535],
  ["2026-05-06", 0.000588], ["2026-05-15", 0.000569], ["2026-05-25", 0.000518], ["2026-06-03", 0.000502],
];

// [start, end, price at top, strength (1 = solid, 0.5 = faint)]
const signalBars: [string, string, number, number][] = [
  ["2017-05-26", "2017-06-14", 0.0034, 1],
  ["2017-06-14", "2017-07-02", 0.0027, 1],
  ["2017-07-09", "2017-07-19", 0.0018, 0.5],
  ["2017-09-16", "2017-10-12", 0.0009, 1],
  ["2017-12-25", "2018-01-03", 0.0088, 1],
  ["2018-01-03", "2018-01-14", 0.0127, 1],
  ["2018-01-14", "2018-01-24", 0.007, 1],
  ["2018-09-12", "2018-10-05", 0.0056, 1],
  ["2021-02-11", "2021-03-09", 0.05, 1],
  ["2021-05-07", "2021-05-15", 0.45, 1],
  ["2021-05-15", "2021-05-23", 0.42, 0.5],
  ["2021-05-23", "2021-05-27", 0.33, 1],
  ["2024-12-08", "2024-12-11", 0.44, 0.5],
  ["2024-12-14", "2024-12-27", 0.4, 0.5],
  ["2025-11-06", "2025-12-03", 0.16, 1],
];

// ---------------- CHART ----------------
const FONT = "'Noto Sans', 'DejaVu Sans', sans-serif";
const TITLE_FONT = "'Liberation Sans', Arial, sans-serif";

function toTs(s: string): number {
  const [y, m, d] = s.split("-").map(Number);
  return new Date(y, m - 1, d).getTime();
}

function buildOption(): any {
  const signalSeriesData = signalBars.map(([s, e, t, k]) => [toTs(s), toTs(e), t, k]);

  return {
    animation: false,
    backgroundColor: "#ffffff",
    grid: { left: 268, right: 169, top: 125, bottom: 95, containLabel: false },
    legend: {
      top: 96,
      left: "center",
      itemWidth: 11,
      itemHeight: 11,
      itemGap: 14,
      selectedMode: false,
      textStyle: { fontSize: 24, color: "#1d2129", fontFamily: FONT },
      data: [
        { name: "Price", icon: "diamond" },
        { name: "MVOCDD", icon: "diamond" },
        { name: "Reserve Risk", icon: "diamond" },
        { name: "MVOCDD Signal", icon: "roundRect" },
        { name: "Lower Threshold Area", icon: "diamond" },
        { name: "Lower Threshold Line", icon: "diamond" },
        { name: "Upper Threshold Area", icon: "diamond" },
        { name: "Upper Threshold Line", icon: "diamond" },
      ],
    },
    xAxis: {
      type: "time",
      min: xStart,
      max: xEnd,
      splitNumber: 6,
      axisLine: { show: true, lineStyle: { color: "#3d4049", width: 2 } },
      axisTick: { show: true, length: 7, lineStyle: { color: "#3d4049", width: 1.5 } },
      axisLabel: {
        formatter: "{yyyy}",
        color: "#9a9fac",
        fontSize: 23,
        fontFamily: FONT,
        margin: 8,
      },
      splitLine: { show: false },
    },
    yAxis: [
      {
        type: "log",
        logBase: 10,
        min: leftMin,
        max: leftMax,
        position: "left",
        axisLine: { show: false },
        axisTick: { show: false },
        splitLine: { show: false },
        axisLabel: {
          color: "#9a9fac",
          fontSize: 23,
          fontFamily: FONT,
          margin: 9,
          formatter: (v: number) => String(+v.toPrecision(6)),
        },
      },
      {
        type: "log",
        logBase: 10,
        min: rightMin,
        max: rightMax,
        position: "right",
        axisLine: { show: false },
        axisTick: { show: false },
        splitLine: { show: false },
        axisLabel: {
          color: "#9a9fac",
          fontSize: 23,
          fontFamily: FONT,
          margin: 10,
          showMinLabel: false,
          formatter: (v: number) => "$" + String(+v.toFixed(3)),
        },
      },
    ],
    visualMap: {
      type: "piecewise",
      show: false,
      seriesIndex: 5,
      dimension: 1,
      pieces: [
        { lte: lowerThreshold, color: "#3a9a1c" },
        { gt: upperThreshold, lte: 1, color: "#ff3b3b" },
      ],
      outOfRange: { color: "#5470c6" },
    },
    series: [
      {
        name: "Upper Threshold Area",
        type: "line",
        yAxisIndex: 0,
        z: 0,
        symbol: "none",
        silent: true,
        data: [[xStart, upperThreshold], [xEnd, upperThreshold]],
        lineStyle: { opacity: 0 },
        itemStyle: { color: "#ee4444" },
        markArea: {
          silent: true,
          itemStyle: { color: "#f8c8c8" },
          data: [[{ yAxis: upperThreshold }, { yAxis: upperAreaTop }]],
        },
      },
      {
        name: "Lower Threshold Area",
        type: "line",
        yAxisIndex: 0,
        z: 0,
        symbol: "none",
        silent: true,
        data: [[xStart, lowerThreshold], [xEnd, lowerThreshold]],
        lineStyle: { opacity: 0 },
        itemStyle: { color: "#3ba21b" },
        markArea: {
          silent: true,
          itemStyle: { color: "#c4e0ba" },
          data: [[{ yAxis: lowerAreaBottom }, { yAxis: lowerThreshold }]],
        },
      },
      {
        name: "MVOCDD Signal",
        type: "custom",
        yAxisIndex: 1,
        z: 2,
        silent: true,
        itemStyle: { color: "#ffa3a3" },
        encode: { x: [0, 1], y: 2 },
        data: signalSeriesData,
        renderItem: (params: any, api: any) => {
          const p0 = api.coord([api.value(0), api.value(2)]);
          const p1 = api.coord([api.value(1), signalBase]);
          const solid = api.value(3) >= 1;
          return {
            type: "rect",
            shape: { x: p0[0], y: p0[1], width: Math.max(p1[0] - p0[0], 2), height: p1[1] - p0[1] },
            style: { fill: solid ? "#ff8080" : "#ffb0b0" },
          };
        },
      },
      {
        name: "Upper Threshold Line",
        type: "line",
        yAxisIndex: 0,
        z: 3,
        symbol: "none",
        silent: true,
        data: [[xStart, upperThreshold], [xEnd, upperThreshold]],
        lineStyle: { color: "#ee4444", width: 2, type: [12, 7] },
        itemStyle: { color: "#ee4444" },
      },
      {
        name: "Lower Threshold Line",
        type: "line",
        yAxisIndex: 0,
        z: 3,
        symbol: "none",
        silent: true,
        data: [[xStart, lowerThreshold], [xEnd, lowerThreshold]],
        lineStyle: { color: "#3a9a1c", width: 2, type: [12, 7] },
        itemStyle: { color: "#1fa38c" },
      },
      {
        name: "Reserve Risk",
        type: "line",
        yAxisIndex: 0,
        z: 4,
        symbol: "none",
        showSymbol: false,
        data: reserveRiskData,
        lineStyle: { width: 2.6 },
        itemStyle: { color: "#5470c6" },
      },
      {
        name: "MVOCDD",
        type: "line",
        yAxisIndex: 0,
        z: 5,
        symbol: "none",
        showSymbol: false,
        data: mvocddData,
        lineStyle: { width: 2.8, color: "#ffa500" },
        itemStyle: { color: "#ffa500" },
      },
      {
        name: "Price",
        type: "line",
        yAxisIndex: 1,
        z: 6,
        symbol: "none",
        showSymbol: false,
        data: priceData,
        lineStyle: { width: 3, color: "#000000" },
        itemStyle: { color: "#000000" },
      },
    ],
    graphic: {
      elements: [
        { type: "circle", z: 10, shape: { cx: 987, cy: 52, r: 25 }, style: { fill: "#c9a43a", stroke: "#a8872a", lineWidth: 2 } },
        { type: "circle", z: 10, shape: { cx: 987, cy: 52, r: 18 }, style: { fill: "#dcc276" } },
        {
          type: "text", z: 11, x: 988, y: 53,
          style: { text: "D", fontSize: 27, fontWeight: "bold", fontFamily: TITLE_FONT, fill: "#f6efd9", align: "center", verticalAlign: "middle" },
        },
        {
          type: "text", z: 10, x: 1442, y: 52,
          style: { text: "Dogecoin: Reserve Risk Indicators", fontSize: 49, fontWeight: "bold", fontFamily: TITLE_FONT, fill: "#000000", align: "center", verticalAlign: "middle" },
        },
        {
          type: "text", z: 10, x: 2853, y: 63,
          style: { text: "2026-06-03", fontSize: 18, fontWeight: "bold", fontFamily: TITLE_FONT, fill: "#000000", align: "right", verticalAlign: "middle" },
        },
        {
          type: "ellipse", z: 1, silent: true, shape: { cx: 1085, cy: 858, rx: 95, ry: 42 }, rotation: 0.55, originX: 1085, originY: 858,
          style: { fill: "none", stroke: "rgba(150,160,220,0.3)", lineWidth: 24 },
        },
        {
          type: "polygon", z: 1, silent: true, shape: { points: [[1000, 948], [1095, 770], [1130, 835], [1060, 948]] },
          style: { fill: "rgba(150,160,220,0.25)" },
        },
        {
          type: "text", z: 1, silent: true, x: 1545, y: 864,
          style: { text: "Alphractal", fontSize: 152, fontFamily: TITLE_FONT, fill: "rgba(105,105,105,0.27)", align: "center", verticalAlign: "middle" },
        },
        {
          type: "text", z: 10, x: 40, y: 1572,
          style: { text: "Alphractal.com", fontSize: 23, fontFamily: FONT, fill: "#3a3d45", align: "left", verticalAlign: "middle" },
        },
        {
          type: "text", z: 10, x: 2840, y: 1572,
          style: { text: "© 2026 Alphractal. All Rights Reserved.", fontSize: 23, fontFamily: FONT, fill: "#3a3d45", align: "right", verticalAlign: "middle" },
        },
        {
          type: "ellipse", z: 10, silent: true, shape: { cx: 2712, cy: 1598, rx: 11, ry: 6 }, rotation: 0.5, originX: 2712, originY: 1598,
          style: { fill: "none", stroke: "rgba(170,170,170,0.6)", lineWidth: 3 },
        },
        {
          type: "text", z: 10, x: 2876, y: 1598,
          style: { text: "@ Alphractal", fontSize: 21, fontFamily: FONT, fill: "#c4c4c4", align: "right", verticalAlign: "middle" },
        },
      ],
    },
  };
}

export default function App() {
  const ref = useRef<HTMLDivElement | null>(null);

  useEffect(() => {
    document.body.style.margin = "0";
    document.body.style.overflow = "hidden";
    if (!ref.current) return;
    const chart = echarts.init(ref.current, null, { renderer: "svg" });
    chart.setOption(buildOption());
    return () => {
      chart.dispose();
    };
  }, []);

  return <div ref={ref} style={{ width: 2880, height: 1620, position: "absolute", left: 0, top: 0 }} />;
}
